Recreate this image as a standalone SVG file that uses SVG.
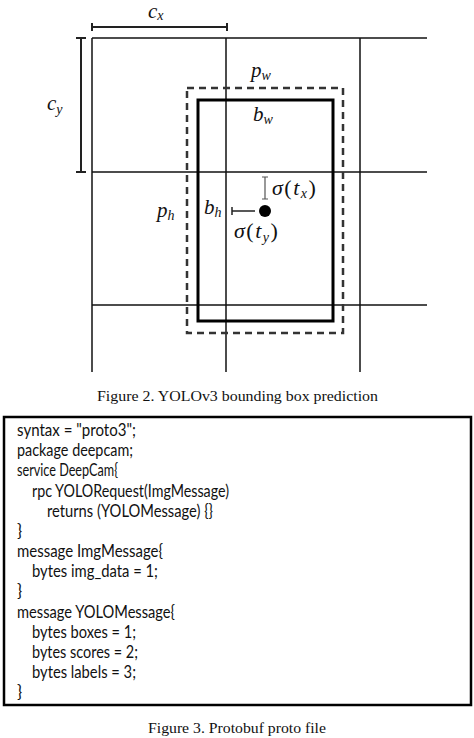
<svg xmlns="http://www.w3.org/2000/svg" width="474" height="738" viewBox="0 0 474 738">
<style>
.grid{stroke:#111;stroke-width:1.5;fill:none}
.br{stroke:#222;stroke-width:2;fill:none}
.m{font-family:"Liberation Serif",serif;font-style:italic;font-size:21px;fill:#111}
.s{font-size:22px;letter-spacing:1.5px}
.up{font-style:normal}
.sub{font-size:14px;letter-spacing:0}
.cap{font-family:"Liberation Serif",serif;font-size:15px;fill:#111}
.code{font-family:Lato,"Open Sans",sans-serif;font-size:17px;fill:#111}
</style>
<rect width="474" height="738" fill="#fff"/>
<g id="grid">
<line class="grid" x1="92" y1="38" x2="427" y2="38"/>
<line class="grid" x1="92" y1="172" x2="427" y2="172" stroke-width="2"/>
<line class="grid" x1="92" y1="305" x2="427" y2="305" stroke="#666"/>
<line class="grid" x1="92" y1="38" x2="92" y2="372"/>
<line class="grid" x1="226" y1="38" x2="226" y2="372"/>
<line class="grid" x1="360" y1="38" x2="360" y2="372"/>
</g>
<g id="brackets">
<path class="br" d="M92 27H227M92 23V31M227 23V31"/>
<path class="br" d="M81 38V172M76 38H86M76 172H86"/>
<path stroke="#555" stroke-width="1.2" fill="none" d="M265 177V199M262 177H268M262 199H268"/>
<path stroke="#222" stroke-width="1.5" fill="none" d="M232 211H255M232 207V215"/>
</g>
<g id="prior-box"><rect x="187" y="88" width="156" height="245" fill="none" stroke="#333" stroke-width="2.5" stroke-dasharray="7,5"/></g>
<g id="bbox"><rect x="198" y="100" width="135" height="221" fill="none" stroke="#000" stroke-width="3"/></g>
<g id="center"><circle cx="265" cy="211" r="6" fill="#000"/></g>
<g id="labels">
<text class="m" x="148" y="18" font-size="19">c<tspan class="sub" dy="2">x</tspan></text>
<text class="m" x="47" y="110">c<tspan class="sub" dy="4">y</tspan></text>
<text class="m" x="251" y="77">p<tspan class="sub" dy="3">w</tspan></text>
<text class="m" x="253" y="121">b<tspan class="sub" dy="3">w</tspan></text>
<text class="m" x="157" y="217">p<tspan class="sub" dy="3">h</tspan></text>
<text class="m" x="204" y="214">b<tspan class="sub" dy="3">h</tspan></text>
<text class="m s" x="272" y="195">σ<tspan class="up">(</tspan>t<tspan class="sub" dy="3">x</tspan><tspan class="up" dy="-3" dx="1.5">)</tspan></text>
<text class="m s" x="234" y="238">σ<tspan class="up">(</tspan>t<tspan class="sub" dy="4">y</tspan><tspan class="up" dy="-4" dx="1.5">)</tspan></text>
</g>
<g id="caption2"><text class="cap" x="97" y="401" textLength="281" lengthAdjust="spacingAndGlyphs">Figure 2. YOLOv3 bounding box prediction</text></g>
<g id="proto-box">
<rect x="4" y="417" width="467" height="288" fill="none" stroke="#000" stroke-width="2.5"/>
<text class="code" x="17" y="436" textLength="119" lengthAdjust="spacingAndGlyphs">syntax = "proto3";</text>
<text class="code" x="17" y="456" textLength="116" lengthAdjust="spacingAndGlyphs">package deepcam;</text>
<text class="code" x="17" y="476" textLength="101" lengthAdjust="spacingAndGlyphs">service DeepCam{</text>
<text class="code" x="32" y="497" textLength="197" lengthAdjust="spacingAndGlyphs">rpc YOLORequest(ImgMessage)</text>
<text class="code" x="47" y="517" textLength="166" lengthAdjust="spacingAndGlyphs">returns (YOLOMessage) {}</text>
<text class="code" x="17" y="537">}</text>
<text class="code" x="17" y="557" textLength="146" lengthAdjust="spacingAndGlyphs">message ImgMessage{</text>
<text class="code" x="32" y="577" textLength="126" lengthAdjust="spacingAndGlyphs">bytes img_data = 1;</text>
<text class="code" x="17" y="597">}</text>
<text class="code" x="17" y="618" textLength="158" lengthAdjust="spacingAndGlyphs">message YOLOMessage{</text>
<text class="code" x="32" y="638" textLength="104" lengthAdjust="spacingAndGlyphs">bytes boxes = 1;</text>
<text class="code" x="32" y="658" textLength="106" lengthAdjust="spacingAndGlyphs">bytes scores = 2;</text>
<text class="code" x="32" y="678" textLength="104" lengthAdjust="spacingAndGlyphs">bytes labels = 3;</text>
<text class="code" x="17" y="698">}</text>
</g>
<g id="caption3"><text class="cap" x="148" y="733" textLength="178" lengthAdjust="spacingAndGlyphs">Figure 3. Protobuf proto file</text></g>
</svg>
